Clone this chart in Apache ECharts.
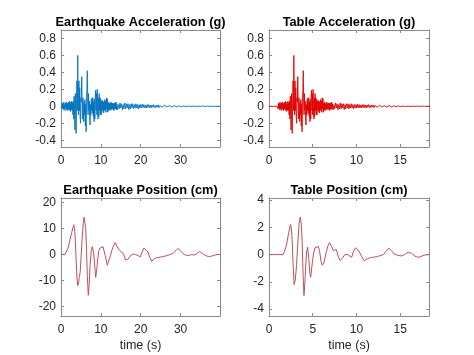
<!DOCTYPE html>
<html><head><meta charset="utf-8">
<script src="https://cdn.jsdelivr.net/npm/echarts@6/dist/echarts.min.js"></script>
<style>html,body{margin:0;padding:0;background:#fff}#c{width:474px;height:355px}</style>
</head><body><div id="c"></div>
<script>
// ---- titles / labels ----
const titles = ['Earthquake Acceleration (g)', 'Table Acceleration (g)', 'Earthquake Position (cm)', 'Table Position (cm)'];
const xLabel = 'time (s)';

// ---- tick values ----
const accTicks = [-0.4, -0.2, 0, 0.2, 0.4, 0.6, 0.8];
const eqPosTicks = [-20, -10, 0, 10, 20];
const tablePosTicks = [-4, -2, 0, 2, 4];
const eqTimeTicks = [0, 10, 20, 30];
const tableTimeTicks = [0, 5, 10, 15];

// ---- earthquake acceleration (g): samples every 0.1 s from 0 s, then every 0.2 s from 14 s ----
const eqAccEarly = [
  0, 0.02, -0.03, 0.04, -0.02, 0.03, -0.04, 0.05, -0.03, 0.02,
  -0.05, 0.04, -0.02, 0.05, -0.04, 0.03, -0.05, 0.04, -0.03, 0.05,
  -0.04, 0.06, -0.05, 0.03, -0.06, 0.05, -0.04, 0.06, -0.05, 0.04,
  -0.1, 0.06, -0.15, 0.12, -0.05, -0.28, 0.15, -0.1, -0.32, 0.05,
  0.3, -0.05, 0.6, 0.1, -0.1, 0.3, -0.05, 0.22, -0.12, -0.2,
  0.1, 0.05, 0.35, 0.05, -0.15, 0.1, -0.05, -0.18, 0.05, -0.1,
  0.08, -0.23, 0.02, -0.3, 0.1, 0.2, 0.42, 0.05, -0.1, 0.15,
  -0.05, 0.06, -0.15, -0.22, 0.02, -0.1, 0.08, -0.05, 0.1, -0.08,
  0.1, -0.12, 0.05, -0.18, 0.08, -0.15, 0.12, 0.19, -0.05, 0.15,
  -0.1, 0.2, -0.05, -0.15, 0.1, -0.12, 0.15, -0.05, 0.1, -0.1,
  0.08, -0.1, 0.06, -0.04, 0.07, -0.06, 0.05, -0.08, 0.06, -0.05,
  0.08, -0.04, 0.06, -0.07, 0.1, -0.03, 0.09, -0.07, 0.04, -0.05,
  0.05, -0.04, 0.03, -0.05, 0.04, -0.03, 0.05, -0.04, 0.03, -0.03,
  0.04, -0.04, 0.03, -0.05, 0.04, -0.03, 0.04, -0.03, 0.05, -0.04
];
const eqAccLate = [
  0.03, -0.04, 0.02, -0.03, 0.04, -0.02, 0.03, -0.04, 0.02, -0.03,
  0.04, -0.03, 0.03, -0.02, 0.03, -0.04, 0.02, -0.03, 0.03, -0.02,
  0.03, -0.03, 0.02, -0.02, 0.03, -0.02, 0.02, -0.03, 0.02, -0.02,
  0.02, -0.02, 0.025, -0.015, 0.02, -0.02, 0.015, -0.02, 0.02, -0.015,
  0.02, -0.015, 0.015, -0.02, 0.015, -0.01, 0.02, -0.015, 0.01, -0.015,
  0.015, -0.01, 0.015, -0.015, 0.01, -0.01, 0.015, -0.01, 0.01, -0.012,
  0.012, -0.01, 0.01, -0.008, 0.012, -0.01, 0.008, -0.01, 0.01, -0.008,
  0.008, -0.006, 0.01, -0.008, 0.006, -0.008, 0.008, -0.006, 0.006, -0.005,
  0.005, -0.005, 0.006, -0.004, 0.005, -0.005, 0.004, -0.004, 0.005, -0.003,
  0.004, -0.004, 0.003, -0.003, 0.004, -0.003, 0.003, -0.002, 0.003, -0.003,
  0.003, -0.002, 0.002, -0.003, 0.002, -0.002, 0.002, -0.002, 0.003, -0.002,
  0.002, -0.002, 0.001, -0.002, 0.002, -0.001, 0.001, -0.001, 0.002, -0.001,
  0.001, -0.001, 0.001, -0.001, 0.001, 0, 0.001, -0.001, 0, 0
];
const eqAccDtEarly = 0.1, eqAccLateStart = 14, eqAccDtLate = 0.2;
// table replays the same record, time-compressed, starting ~0.95 s
const tableAccStart = 0.95, tableAccDtEarly = 0.045, tableAccDtLate = 0.09;

// ---- earthquake position (cm) ----
const eqPosTime = [0,1.0,1.3,1.7,2.0,2.3,2.7,3.0,3.25,3.45,3.6,3.8,4.0,4.2,4.4,4.6,4.8,5.0,5.3,5.6,5.8,6.0,6.2,6.4,6.6,6.85,7.05,7.3,7.6,7.85,8.05,8.2,8.4,8.7,8.9,9.2,9.5,9.8,10.1,10.3,10.55,10.9,11.2,11.6,11.9,12.4,13.0,13.6,14.1,14.7,15.2,15.6,16.2,16.8,17.5,18.1,18.7,19.3,19.9,20.3,20.8,21.3,21.8,22.3,22.8,23.4,24.2,25.0,25.8,26.6,27.4,28.2,28.9,29.4,30.0,30.6,31.3,32.0,32.8,33.6,34.2,34.8,35.5,36.2,37.0,37.8,38.5,39.2,39.9];
const eqPosVal = [0,0,0.5,2.2,4,6,8.5,10.5,11.5,9,5.5,-2,-9,-12,-11,-8.5,-7,-2,6,12.5,14.4,14.2,10,2,-8,-15.7,-12,-4,1.5,3,1.5,0.3,-3,-8.8,-7,-2,1.5,2.5,2.8,2.0,3.0,3.2,-1,-4.1,-3.8,-0.5,2.8,4.6,3,1.6,2.1,0.5,-2.1,-1.8,-0.3,0.2,0,-0.4,-0.9,0.8,2.5,1.9,1.0,-1.2,-2.6,-1.6,-1.2,-1.0,-0.7,-0.4,0,0.6,1.6,2.4,1.4,0.4,-0.2,-0.4,0,-0.2,0.6,1.1,0.4,-0.3,-0.8,-0.6,-0.3,0,0];

// ---- table position (cm) ----
const tablePosTime = [0,1.6,1.75,2.0,2.25,2.45,2.55,2.65,2.75,2.87,3.0,3.15,3.3,3.45,3.57,3.7,3.8,3.9,4.0,4.1,4.2,4.3,4.42,4.55,4.68,4.77,4.9,5.05,5.25,5.45,5.65,5.8,5.95,6.1,6.3,6.55,6.75,6.92,7.15,7.37,7.55,7.7,7.9,8.13,8.4,8.7,9.0,9.2,9.45,9.65,9.9,10.1,10.3,10.6,10.9,11.2,11.6,12.0,12.4,12.8,13.1,13.4,13.7,14.0,14.3,14.7,15.1,15.5,15.9,16.3,16.7,17.1,17.5,17.9,18.3];
const tablePosVal = [0,0,0.2,0.7,1.6,2.2,2.0,1.1,-0.6,-2.2,-1.9,-0.8,0.9,2.3,2.75,2.2,0.8,-1.5,-3.0,-2.1,-0.8,0.2,0.55,-0.3,-1.4,-1.65,-0.9,-0.1,0.5,0.42,0.6,0.2,-0.5,-0.78,-0.55,0.2,0.65,0.88,0.6,0.3,0.42,0.38,-0.1,-0.42,-0.25,0.02,0,-0.07,-0.2,0.2,0.5,0.4,0.25,-0.15,-0.46,-0.32,-0.22,-0.18,-0.15,-0.05,0,0.25,0.47,0.3,0.05,-0.05,-0.1,0,0.18,0.1,-0.12,-0.2,-0.1,-0.02,0];

// ---- build series data ----
const eqAcc = [];
eqAccEarly.forEach((v, i) => eqAcc.push([i * eqAccDtEarly, v]));
eqAccLate.forEach((v, i) => eqAcc.push([eqAccLateStart + i * eqAccDtLate, v]));
const tableAcc = [[0, 0]];
eqAccEarly.forEach((v, i) => tableAcc.push([tableAccStart + i * tableAccDtEarly, v]));
const tableLateStart = tableAccStart + eqAccEarly.length * tableAccDtEarly;
eqAccLate.forEach((v, i) => tableAcc.push([tableLateStart + i * tableAccDtLate, v]));
const eqPos = eqPosTime.map((t, i) => [t, eqPosVal[i]]);
const tablePos = tablePosTime.map((t, i) => [t, tablePosVal[i]]);

const FONT = 'Liberation Sans';
const TXT = '#262626';
const AX = '#8a8a8a';

const grids = [
  {left: 61, top: 30, width: 159, height: 117},
  {left: 269, top: 30, width: 160, height: 117},
  {left: 61, top: 198, width: 159, height: 118},
  {left: 269, top: 198, width: 160, height: 118}
];
const xr = [[0, 39.9, eqTimeTicks], [0, 18.3, tableTimeTicks], [0, 39.9, eqTimeTicks], [0, 18.3, tableTimeTicks]];
const yr = [[-0.48, 0.9, accTicks], [-0.48, 0.9, accTicks], [-23.7, 21.8, eqPosTicks], [-4.5, 4.15, tablePosTicks]];

const xAxes = [], yAxes = [];
grids.forEach((g, i) => {
  const line = {show: true, onZero: false, lineStyle: {color: AX, width: 1}};
  const tick = (vals) => ({show: true, inside: true, length: 3, lineStyle: {color: AX}, customValues: vals});
  xAxes.push({type: 'value', gridIndex: i, position: 'bottom', min: xr[i][0], max: xr[i][1],
    axisLine: line, axisTick: tick(xr[i][2]), splitLine: {show: false},
    axisLabel: {customValues: xr[i][2], margin: 8, color: TXT, fontFamily: FONT, fontSize: 12},
    name: i >= 2 ? xLabel : '', nameLocation: 'middle', nameGap: 23,
    nameTextStyle: {color: TXT, fontFamily: FONT, fontSize: 12.5}});
  xAxes.push({type: 'value', gridIndex: i, position: 'top', min: xr[i][0], max: xr[i][1],
    axisLine: line, axisTick: tick(xr[i][2]), splitLine: {show: false}, axisLabel: {show: false},
    name: titles[i], nameLocation: 'middle', nameGap: 1,
    nameTextStyle: {color: '#000', fontFamily: FONT, fontSize: 12.8, fontWeight: 'bold'}});
  yAxes.push({type: 'value', gridIndex: i, position: 'left', min: yr[i][0], max: yr[i][1],
    axisLine: line, axisTick: tick(yr[i][2]), splitLine: {show: false},
    axisLabel: {customValues: yr[i][2], margin: 5, color: TXT, fontFamily: FONT, fontSize: 12,
      formatter: v => String(Math.round(v * 100) / 100)}});
  yAxes.push({type: 'value', gridIndex: i, position: 'right', min: yr[i][0], max: yr[i][1],
    axisLine: line, axisTick: tick(yr[i][2]), splitLine: {show: false}, axisLabel: {show: false}});
});

const mk = (i, data, color, w) => ({type: 'line', xAxisIndex: 2 * i, yAxisIndex: 2 * i, data: data,
  showSymbol: false, symbol: 'none', clip: true, lineStyle: {color: color, width: w}, silent: true});

const chart = echarts.init(document.getElementById('c'), null, {renderer: 'canvas'});
chart.setOption({
  animation: false,
  backgroundColor: '#fff',
  grid: grids,
  xAxis: xAxes,
  yAxis: yAxes,
  series: [
    mk(0, eqAcc, '#0072BD', 0.9),
    mk(1, tableAcc, '#E00000', 0.9),
    mk(2, eqPos, '#C0505E', 1),
    mk(3, tablePos, '#C0505E', 1)
  ]
});
</script></body></html>
